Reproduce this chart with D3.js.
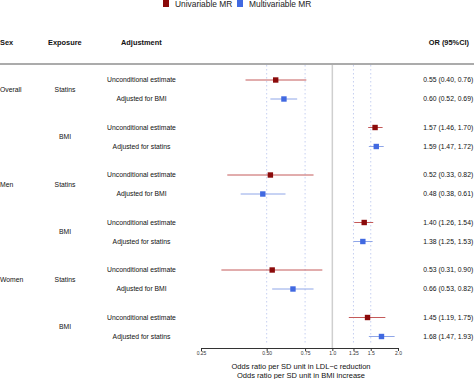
<!DOCTYPE html>
<html><head><meta charset="utf-8">
<script src="https://cdn.jsdelivr.net/npm/d3@7"></script>
<style>body{margin:0;background:#fff}svg{display:block;font-family:"Liberation Sans",Arial,sans-serif}</style>
</head><body><svg id="c" width="474" height="379"></svg>
<script>
const sexes = ["Overall", "Men", "Women"];
const exposures = ["Statins", "BMI"];
const adjustments = ["Unconditional estimate", "Adjusted for BMI", "Unconditional estimate", "Adjusted for statins"];
const models = ["Univariable MR", "Multivariable MR"];
// rows in order: sex x exposure x model
const orValues = [0.55, 0.60, 1.57, 1.59, 0.52, 0.48, 1.40, 1.38, 0.53, 0.66, 1.45, 1.68];
const lowerCI  = [0.40, 0.52, 1.46, 1.47, 0.33, 0.38, 1.26, 1.25, 0.31, 0.53, 1.19, 1.47];
const upperCI  = [0.76, 0.69, 1.70, 1.72, 0.82, 0.61, 1.54, 1.53, 0.90, 0.82, 1.75, 1.93];
const tickValues = [0.25, 0.5, 0.75, 1.0, 1.25, 1.5, 2.0];
const tickLabels = ["0.25", "0.50", "0.75", "1.0", "1.25", "1.5", "2.0"];
const refLines = [0.5, 0.75, 1.25, 1.5];
const axisTitles = ["Odds ratio per SD unit in LDL\u2212c reduction", "Odds ratio per SD unit in BMI increase"];

const svg = d3.select("#c");
const colSquare = ["#8b0a0a", "#4169e1"];
const colLine = ["#c45a5a", "#8fa6e8"];

const rows = orValues.map((v, i) => {
  const g = Math.floor(i / 2), j = i % 2;
  return {or: v, lo: lowerCI[i], hi: upperCI[i], g, j,
    sex: sexes[Math.floor(g / 2)], exp: exposures[g % 2],
    adj: adjustments[(g % 2) * 2 + j], slot: g * 5 + j * 2};
});

const x = d3.scaleLog().base(2).domain([0.25, 2]).range([201, 398]);
const y = d3.scaleLinear().domain([0, 27]).range([80, 336.5]);

// legend
const leg = svg.append("g");
const legX = [163, 237];
models.forEach((m, i) => {
  leg.append("rect").attr("x", legX[i]).attr("y", 0).attr("width", 6).attr("height", 7).attr("fill", colSquare[i]);
  leg.append("text").attr("x", legX[i] + 12).attr("y", 7).attr("font-size", 8.4).attr("fill", "#222").text(m);
});

// headers
const hdr = svg.append("g").attr("font-weight", "bold").attr("font-size", 7.4).attr("fill", "#111");
hdr.append("text").attr("x", 0).attr("y", 45).text("Sex");
hdr.append("text").attr("x", 48).attr("y", 45).text("Exposure");
hdr.append("text").attr("x", 121).attr("y", 45).text("Adjustment");
hdr.append("text").attr("x", 469).attr("y", 45).attr("text-anchor", "end").text("OR (95%CI)");
svg.append("line").attr("x1", 0).attr("x2", 474).attr("y1", 64).attr("y2", 64).attr("stroke", "#8f8f8f").attr("stroke-width", 1.6);

// reference lines
svg.selectAll("line.ref").data(refLines).join("line").attr("class", "ref")
  .attr("x1", d => x(d)).attr("x2", d => x(d)).attr("y1", 65).attr("y2", 345)
  .attr("stroke", "#b8c4ee").attr("stroke-width", 0.8).attr("stroke-dasharray", "1.5,2.5");
svg.append("line").attr("x1", x(1)).attr("x2", x(1)).attr("y1", 65).attr("y2", 348)
  .attr("stroke", "#cfcfcf").attr("stroke-width", 1.5);

// text columns
const tx = svg.append("g").attr("font-size", 6.8).attr("fill", "#111");
rows.forEach(r => {
  tx.append("text").attr("x", 141.5).attr("y", y(r.slot) + 2.4).attr("text-anchor", "middle").text(r.adj);
  tx.append("text").attr("x", 423.3).attr("y", y(r.slot) + 2.4)
    .text(`${r.or.toFixed(2)} (${r.lo.toFixed(2)}, ${r.hi.toFixed(2)})`);
});
rows.filter(r => r.j === 0).forEach(r => {
  tx.append("text").attr("x", 65).attr("y", (y(r.slot) + y(r.slot + 2)) / 2 + 2.4).attr("text-anchor", "middle").text(r.exp);
  if (r.g % 2 === 0)
    tx.append("text").attr("x", 0).attr("y", (y(r.slot) + y(r.slot + 2)) / 2 + 2.4).text(r.sex);
});

// CI lines and squares
svg.selectAll("line.ci").data(rows).join("line").attr("class", "ci")
  .attr("x1", d => x(d.lo)).attr("x2", d => x(d.hi)).attr("y1", d => y(d.slot)).attr("y2", d => y(d.slot))
  .attr("stroke", d => colLine[d.j]).attr("stroke-width", 1);
svg.selectAll("rect.pt").data(rows).join("rect").attr("class", "pt")
  .attr("x", d => x(d.or) - 2.7).attr("y", d => y(d.slot) - 2.7).attr("width", 5.4).attr("height", 5.4)
  .attr("fill", d => colSquare[d.j]);

// axis
const ax = svg.append("g").attr("transform", "translate(0,348)")
  .call(d3.axisBottom(x).tickValues(tickValues).tickFormat((d, i) => tickLabels[i]).tickSize(3).tickSizeOuter(0));
ax.select(".domain").attr("stroke", "#333").attr("stroke-width", 1);
ax.selectAll(".tick line").attr("stroke", "#333");
ax.selectAll(".tick text").attr("font-size", 5).attr("fill", "#333").attr("dy", "0.5em").attr("y", 4);
ax.attr("font-family", null);

axisTitles.forEach((t, i) => {
  svg.append("text").attr("x", 301).attr("y", 368.5 + i * 9.5).attr("text-anchor", "middle")
    .attr("font-size", 7.5).attr("fill", "#111").text(t);
});
</script></body></html>
